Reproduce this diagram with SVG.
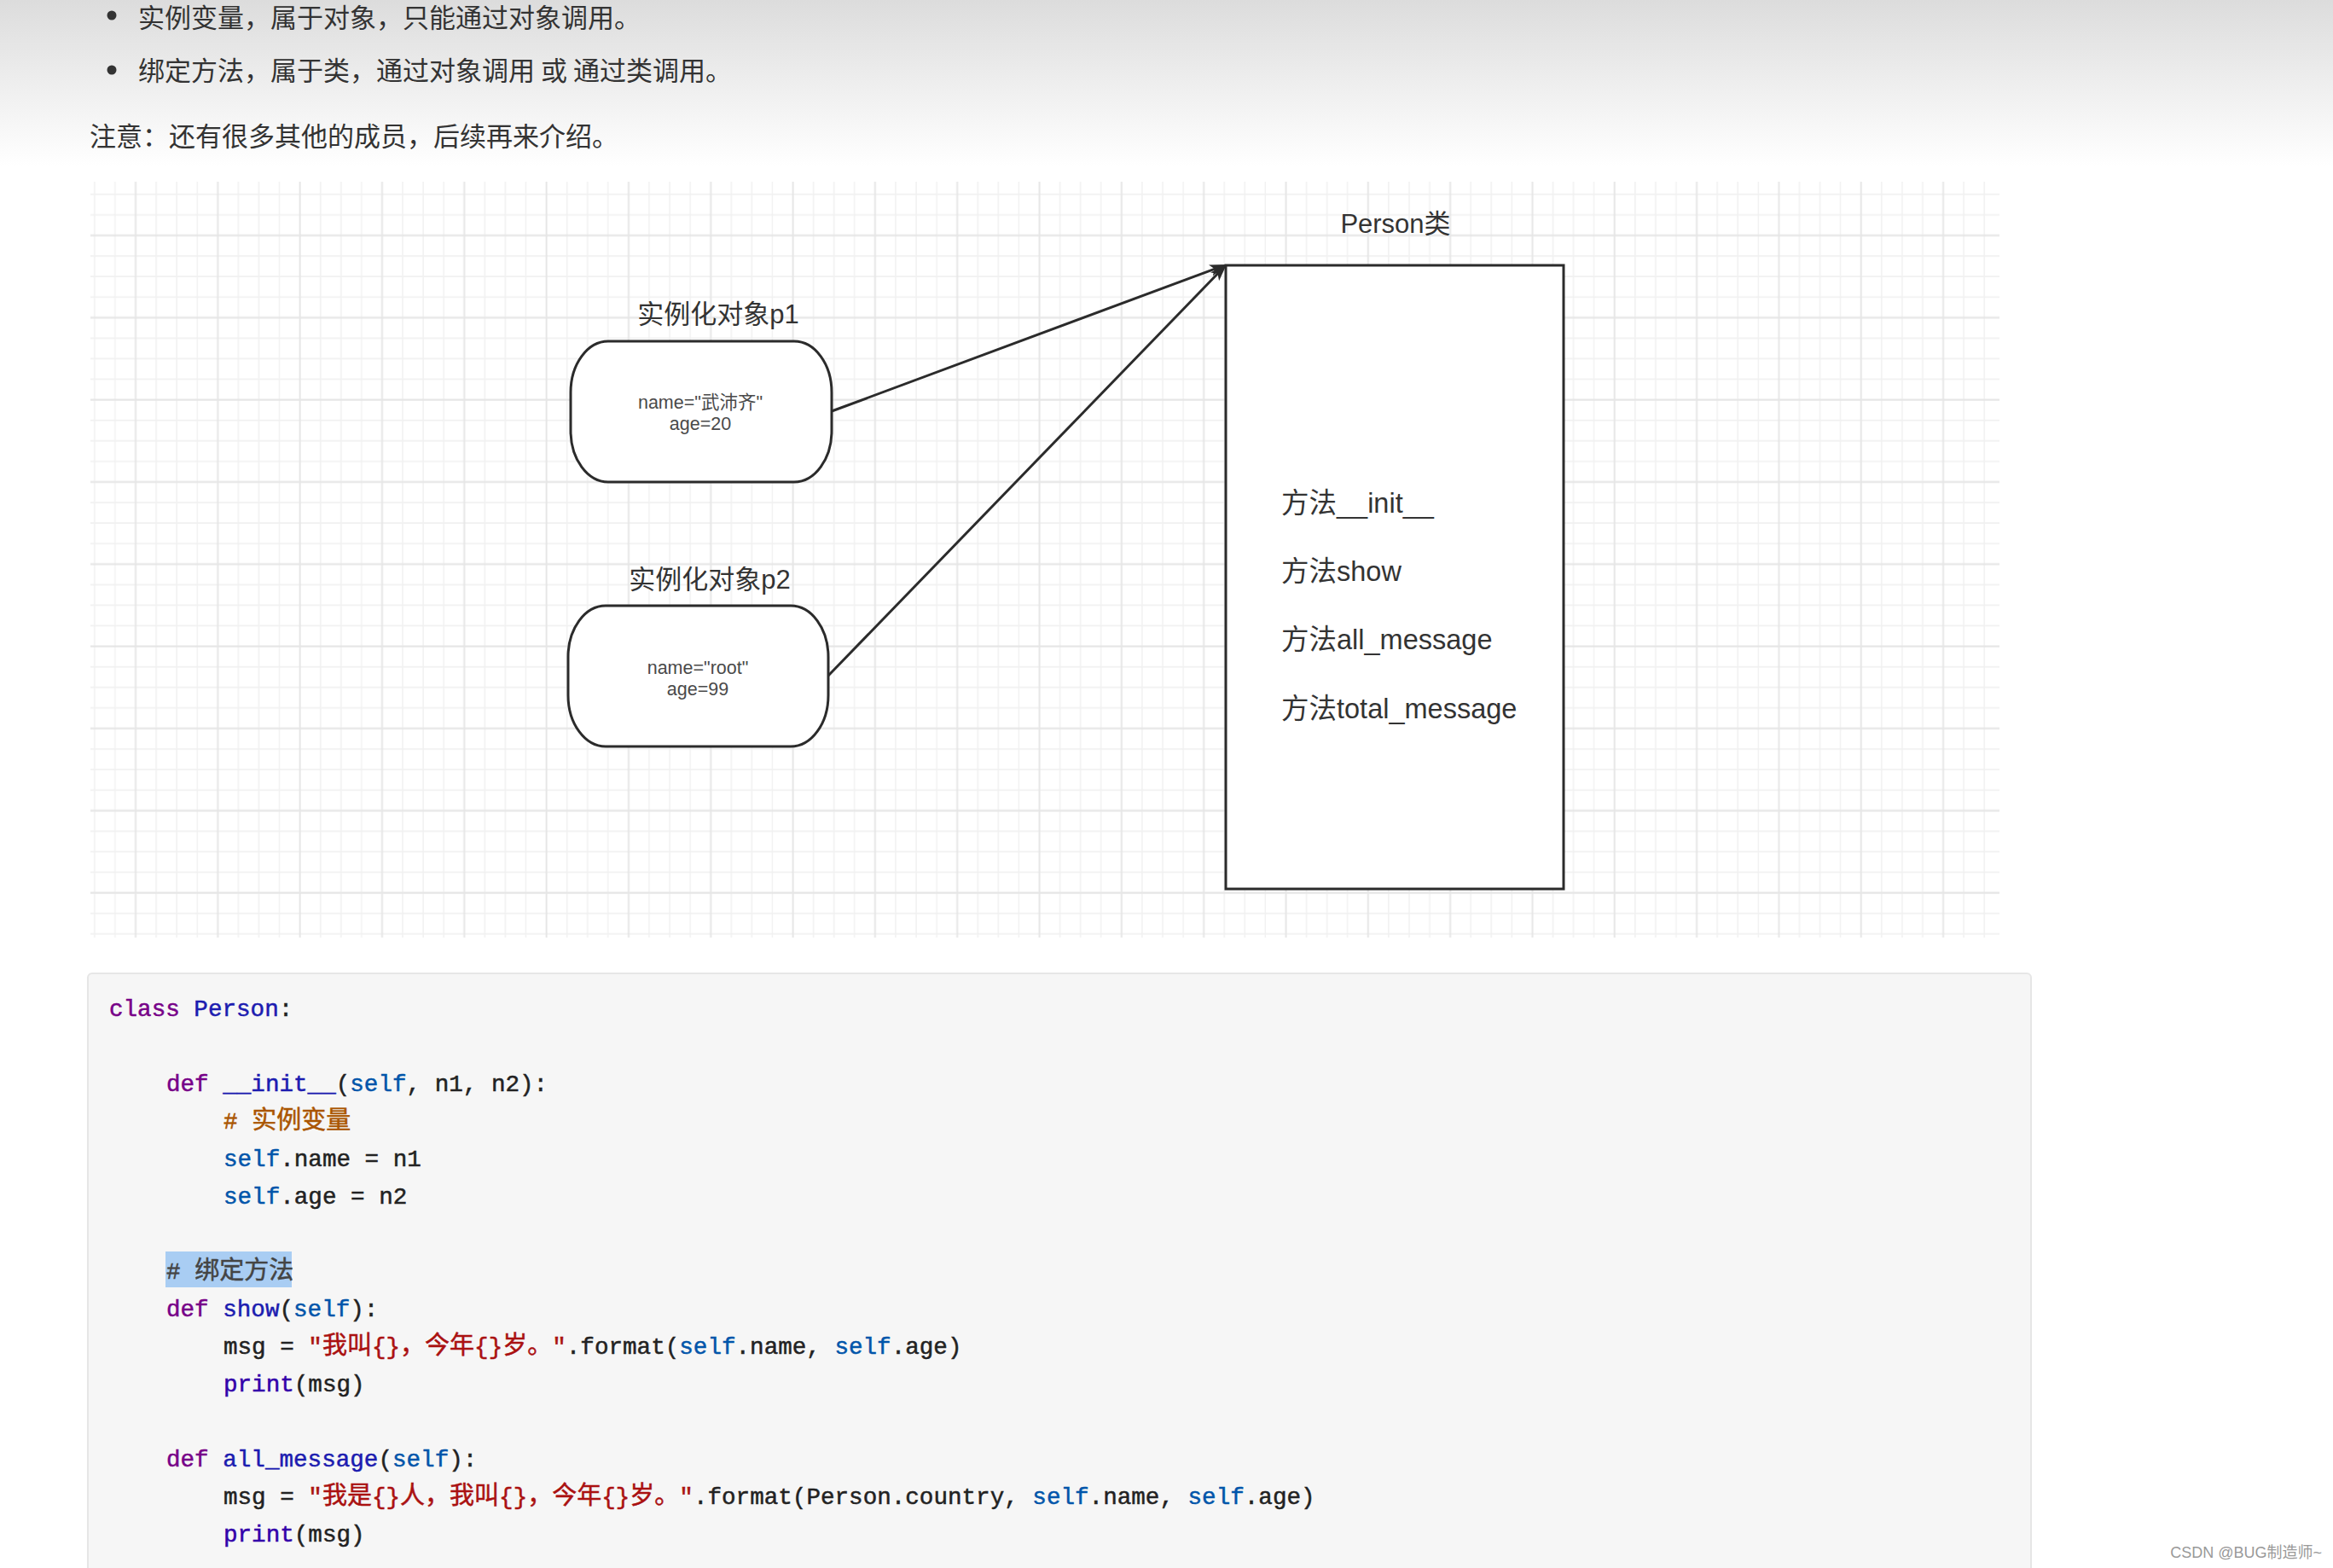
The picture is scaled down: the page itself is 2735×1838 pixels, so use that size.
<svg xmlns="http://www.w3.org/2000/svg" width="2735" height="1838" viewBox="0 0 2735 1838">
<style>
.page{font-family:"Noto Sans CJK SC","Liberation Sans",sans-serif;font-size:31px;fill:#333}
.lbl{font-family:"Liberation Sans","Noto Sans CJK SC",sans-serif;fill:#333}
.ttl{font-size:31px;text-anchor:middle}
.inner{font-size:21.5px;text-anchor:middle;fill:#4a4a4a}
.meth{font-size:32.5px}
.node{fill:#fff;stroke:#2b2b2b;stroke-width:3}
.edge{fill:none;stroke:#2b2b2b;stroke-width:3}
.code{font-family:"Liberation Mono","Noto Sans CJK SC",monospace;font-size:27.6px;fill:#222;stroke:#222;stroke-width:0.5}
.cjk{font-size:29px}
.kw{fill:#708;stroke:#708}
.df{fill:#1c1cb0;stroke:#1c1cb0}
.v2{fill:#05a;stroke:#05a}
.cm{fill:#a50;stroke:#a50}
.st{fill:#a11;stroke:#a11}
.bi{fill:#30a;stroke:#30a}
.sel{fill:#444;stroke:#444}
.gmin{stroke:#f1f1f1;stroke-width:1.5}
.gmaj{stroke:#e6e6e6;stroke-width:2}
</style>
<defs>
<linearGradient id="topg" x1="0" y1="0" x2="0" y2="1">
<stop offset="0" stop-color="#dcdcdc"/>
<stop offset="0.5" stop-color="#eeeeee"/>
<stop offset="1" stop-color="#ffffff"/>
</linearGradient>
<pattern id="grid" x="98.8" y="215.8" width="96.32" height="96.32" patternUnits="userSpaceOnUse">
<line class="gmin" x1="12.04" y1="0" x2="12.04" y2="96.32"/>
<line class="gmin" x1="36.12" y1="0" x2="36.12" y2="96.32"/>
<line class="gmin" x1="84.28" y1="0" x2="84.28" y2="96.32"/>
<line class="gmin" x1="0" y1="12.04" x2="96.32" y2="12.04"/>
<line class="gmin" x1="0" y1="36.12" x2="96.32" y2="36.12"/>
<line class="gmin" x1="0" y1="84.28" x2="96.32" y2="84.28"/>
<line class="gmaj" x1="60.2" y1="0" x2="60.2" y2="96.32"/>
<line class="gmaj" x1="0" y1="60.2" x2="96.32" y2="60.2"/>
</pattern>
<marker id="arr" viewBox="0 0 20 14" refX="14" refY="7" markerWidth="20" markerHeight="14" markerUnits="userSpaceOnUse" orient="auto">
<path d="M0,0 L20,7 L0,14 L5,7 Z" fill="#2b2b2b"/>
</marker>
</defs>

<rect x="0" y="0" width="2735" height="1838" fill="#ffffff"/>
<rect x="0" y="0" width="2735" height="195" fill="url(#topg)"/>

<g id="intro" class="page">
<circle cx="131" cy="18" r="5.5" fill="#333"/>
<text x="162" y="32">实例变量，属于对象，只能通过对象调用。</text>
<circle cx="131" cy="82" r="5.5" fill="#333"/>
<text x="162" y="94">绑定方法，属于类，通过对象调用 或 通过类调用。</text>
<text x="105" y="171">注意：还有很多其他的成员，后续再来介绍。</text>
</g>

<rect id="grid-bg" x="106" y="213" width="2238" height="886" fill="url(#grid)"/>

<g id="connectors">
<line class="edge" x1="975" y1="482" x2="1432.4" y2="312.1" marker-end="url(#arr)"/>
<line class="edge" x1="971" y1="792" x2="1433.8" y2="314.3" marker-end="url(#arr)"/>
</g>

<g id="person-class" class="lbl">
<text class="ttl" x="1636" y="273" font-size="32">Person类</text>
<rect class="node" x="1437" y="311" width="396" height="731"/>
<text class="meth" x="1502" y="601">方法__init__</text>
<text class="meth" x="1502" y="681">方法show</text>
<text class="meth" x="1502" y="761">方法all_message</text>
<text class="meth" x="1502" y="842">方法total_message</text>
</g>

<g id="p1" class="lbl">
<text class="ttl" x="842" y="379">实例化对象p1</text>
<rect class="node" x="669" y="400" width="306" height="165" rx="44" ry="60"/>
<text class="inner" x="821" y="479">name="武沛齐"</text>
<text class="inner" x="821" y="504">age=20</text>
</g>

<g id="p2" class="lbl">
<text class="ttl" x="832" y="690">实例化对象p2</text>
<rect class="node" x="666" y="710" width="305" height="165" rx="44" ry="60"/>
<text class="inner" x="818" y="790">name="root"</text>
<text class="inner" x="818" y="815">age=99</text>
</g>

<g id="code-block">
<rect x="103" y="1141" width="2278" height="720" rx="5" ry="5" fill="#f6f6f6" stroke="#e6e6e6" stroke-width="2"/>
<rect x="194" y="1467" width="148" height="42" fill="#a9cdf3"/>
<g class="code" xml:space="preserve">
<text x="128" y="1191"><tspan class="kw">class</tspan> <tspan class="df">Person</tspan>:</text>
<text x="195" y="1279"><tspan class="kw">def</tspan> <tspan class="df">__init__</tspan>(<tspan class="v2">self</tspan>, n1, n2):</text>
<text x="262" y="1323"><tspan class="cm"># <tspan class="cjk">实例变量</tspan></tspan></text>
<text x="262" y="1367"><tspan class="v2">self</tspan>.name = n1</text>
<text x="262" y="1411"><tspan class="v2">self</tspan>.age = n2</text>
<text x="195" y="1499"><tspan class="sel"># <tspan class="cjk">绑定方法</tspan></tspan></text>
<text x="195" y="1543"><tspan class="kw">def</tspan> <tspan class="df">show</tspan>(<tspan class="v2">self</tspan>):</text>
<text x="262" y="1587">msg = <tspan class="st">"<tspan class="cjk">我叫</tspan>{}<tspan class="cjk">，今年</tspan>{}<tspan class="cjk">岁。</tspan>"</tspan>.format(<tspan class="v2">self</tspan>.name, <tspan class="v2">self</tspan>.age)</text>
<text x="262" y="1631"><tspan class="bi">print</tspan>(msg)</text>
<text x="195" y="1719"><tspan class="kw">def</tspan> <tspan class="df">all_message</tspan>(<tspan class="v2">self</tspan>):</text>
<text x="262" y="1763">msg = <tspan class="st">"<tspan class="cjk">我是</tspan>{}<tspan class="cjk">人，我叫</tspan>{}<tspan class="cjk">，今年</tspan>{}<tspan class="cjk">岁。</tspan>"</tspan>.format(Person.country, <tspan class="v2">self</tspan>.name, <tspan class="v2">self</tspan>.age)</text>
<text x="262" y="1807"><tspan class="bi">print</tspan>(msg)</text>
</g>
</g>

<text id="watermark" x="2722" y="1826" text-anchor="end" font-family="Liberation Sans,Noto Sans CJK SC,sans-serif" font-size="18" fill="#999">CSDN @BUG制造师~</text>
</svg>
